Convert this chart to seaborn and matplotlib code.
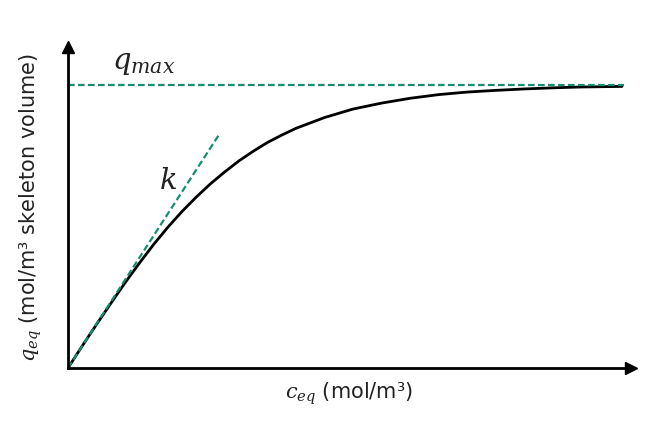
import matplotlib.pyplot as plt
import seaborn as sns
import pandas as pd

# Isotherm curve (arbitrary units, q_max = 1)
c_eq = [0, 0.25, 0.5, 0.75, 1.0, 1.25, 1.5, 1.75, 2.0, 2.25, 2.5, 2.75, 3.0,
        3.25, 3.5, 3.75, 4.0, 4.5, 5.0, 5.5, 6.0, 6.5, 7.0, 7.5, 8.0, 8.5,
        9.0, 9.72]
q_eq = [0, 0.078, 0.154, 0.228, 0.301, 0.370, 0.436, 0.497, 0.553, 0.604,
        0.651, 0.693, 0.732, 0.766, 0.797, 0.823, 0.847, 0.885, 0.915, 0.936,
        0.953, 0.966, 0.975, 0.981, 0.986, 0.990, 0.993, 0.995]

q_max = 1.0
tangent_x = [0, 2.667]
tangent_y = [0, 0.830]

teal = "#148f72"

sns.set_style("white")
plt.rcParams["mathtext.fontset"] = "dejavuserif"

fig = plt.figure(figsize=(6.51, 4.28), dpi=100)
ax = fig.add_axes([68 / 651, 60 / 428, 563 / 651, 321 / 428])

df = pd.DataFrame({"c": c_eq, "q": q_eq})
sns.lineplot(data=df, x="c", y="q", color="black", linewidth=2, ax=ax)
sns.lineplot(x=tangent_x, y=tangent_y, color=teal, linewidth=1.6,
             linestyle=(0, (3, 1.5)), ax=ax)
ax.plot([0, 9.75], [q_max, q_max], color=teal, linewidth=1.6,
        linestyle=(0, (3, 1.5)))

ax.set_xlim(0, 563 / 57)
ax.set_ylim(0, 321 / 283)
ax.set_xticks([])
ax.set_yticks([])
for side in ["top", "right"]:
    ax.spines[side].set_visible(False)
for side in ["left", "bottom"]:
    ax.spines[side].set_linewidth(2)
    ax.spines[side].set_color("black")

# arrow heads on the axes
ax.plot(1, 0, ">k", markersize=9, transform=ax.transAxes, clip_on=False)
ax.plot(0, 1, "^k", markersize=9, transform=ax.transAxes, clip_on=False)

ax.text(0.78, 1.03, r"$q_{max}$", fontsize=21, ha="left", va="bottom",
        color="#222222")
ax.text(1.75, 0.66, r"$k$", fontsize=21, ha="center", va="center",
        color="#222222")

ax.set_xlabel(r"$c_{eq}$ (mol/m³)", fontsize=15, labelpad=9, color="#222222")
ax.set_ylabel(r"$q_{eq}$ (mol/m³ skeleton volume)", fontsize=15, labelpad=17,
              color="#222222")

fig.savefig("out.png", dpi=100)
